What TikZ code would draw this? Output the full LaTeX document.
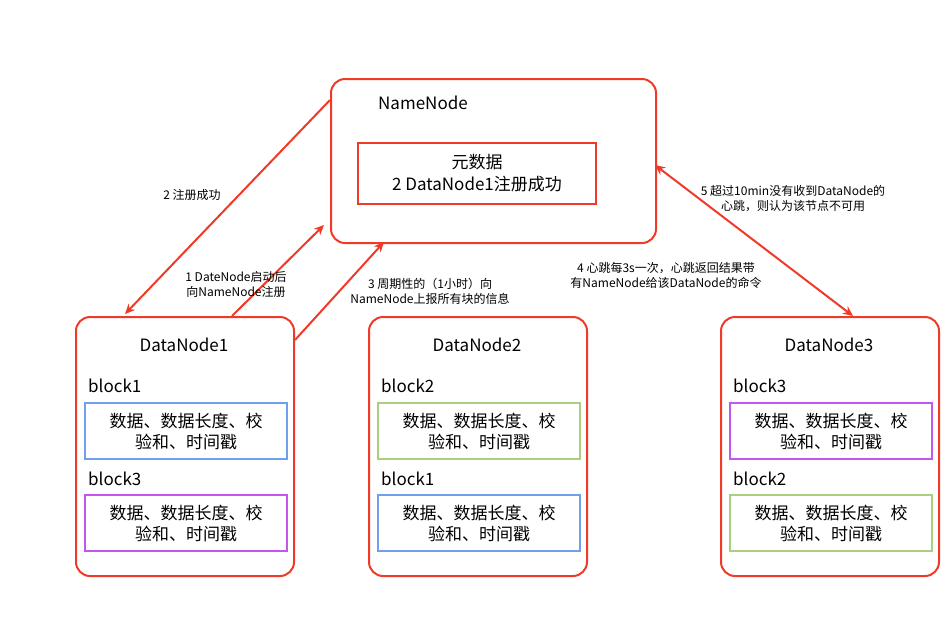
\documentclass[tikz,border=0pt]{standalone}
\usepackage{fontspec}
\setmainfont{Noto Sans CJK SC}
\usetikzlibrary{arrows.meta}
\definecolor{rd}{HTML}{F03A28}
\definecolor{bl}{HTML}{6FA0EE}
\definecolor{gr}{HTML}{A8D080}
\definecolor{pu}{HTML}{C455EE}
\tikzset{
 big/.style={draw=rd,line width=2pt,rounded corners=14pt},
 inner/.style={draw=rd,line width=2pt},
 blk/.style={line width=2pt,minimum width=202pt,minimum height=56pt,font=\fontsize{17}{21}\selectfont,align=center,inner sep=0pt},
 lbl/.style={font=\fontsize{17}{20}\selectfont,anchor=west,inner sep=0pt},
 note/.style={font=\fontsize{12}{15}\selectfont,align=center,inner sep=0pt},
 arr/.style={draw=rd,line width=2pt,-{Stealth[length=10pt,width=9pt]}},
}
\begin{document}
\begin{tikzpicture}[x=1pt,y=-1pt]
\useasboundingbox (0,0) rectangle (944,630);
% NameNode
\node[big,minimum width=325pt,minimum height=164pt,anchor=north west] (nn) at (330,78) {};
\node[lbl] (nnt) at (378,103) {NameNode};
\node[inner,minimum width=238pt,minimum height=61pt,anchor=north west,align=center,font=\fontsize{17}{22}\selectfont,inner sep=0pt] (meta) at (357,142) {元数据\\2 DataNode1注册成功};
% DataNodes
\foreach \n/\x/\t/\ca/\la/\cb/\lb in {d1/75/DataNode1/bl/block1/pu/block3, d2/368/DataNode2/gr/block2/bl/block1, d3/720/DataNode3/pu/block3/gr/block2}{
 \node[big,minimum width=218pt,minimum height=259pt,anchor=north west] (\n) at (\x,316) {};
 \node[lbl,anchor=center] (\n t) at (\x+109,345) {\t};
 \node[lbl] (\n la) at (\x+13,386) {\la};
 \node[blk,draw=\ca,anchor=north west] (\n a) at (\x+9,402) {数据、数据长度、校\\验和、时间戳};
 \node[lbl] (\n lb) at (\x+13,479) {\lb};
 \node[blk,draw=\cb,anchor=north west] (\n b) at (\x+9,494) {数据、数据长度、校\\验和、时间戳};
}
\coordinate (a2s) at (330,100); \coordinate (a2e) at (125,314);
\coordinate (a1s) at (232,316); \coordinate (a1e) at (324,225);
\coordinate (a3s) at (295,340); \coordinate (a3e) at (384,242);
\coordinate (a5s) at (655,165); \coordinate (a5e) at (853,316);
\draw[arr] (a2s) -- (a2e);
\draw[arr] (a1s) -- (a1e);
\draw[arr] (a3s) -- (a3e);
\draw[arr,{Stealth[length=10pt,width=9pt]}-{Stealth[length=10pt,width=9pt]}] (a5s) -- (a5e);
\node[note] (n2) at (192,195) {2 注册成功};
\node[note] (n1) at (236,284) {1 DateNode启动后\\向NameNode注册};
\node[note] (n3) at (430,291) {3 周期性的（1小时）向\\NameNode上报所有块的信息};
\node[note] (n4) at (666,275) {4 心跳每3s一次，心跳返回结果带\\有NameNode给该DataNode的命令};
\node[note] (n5) at (793,199) {5 超过10min没有收到DataNode的\\心跳，则认为该节点不可用};
\end{tikzpicture}
\end{document}
